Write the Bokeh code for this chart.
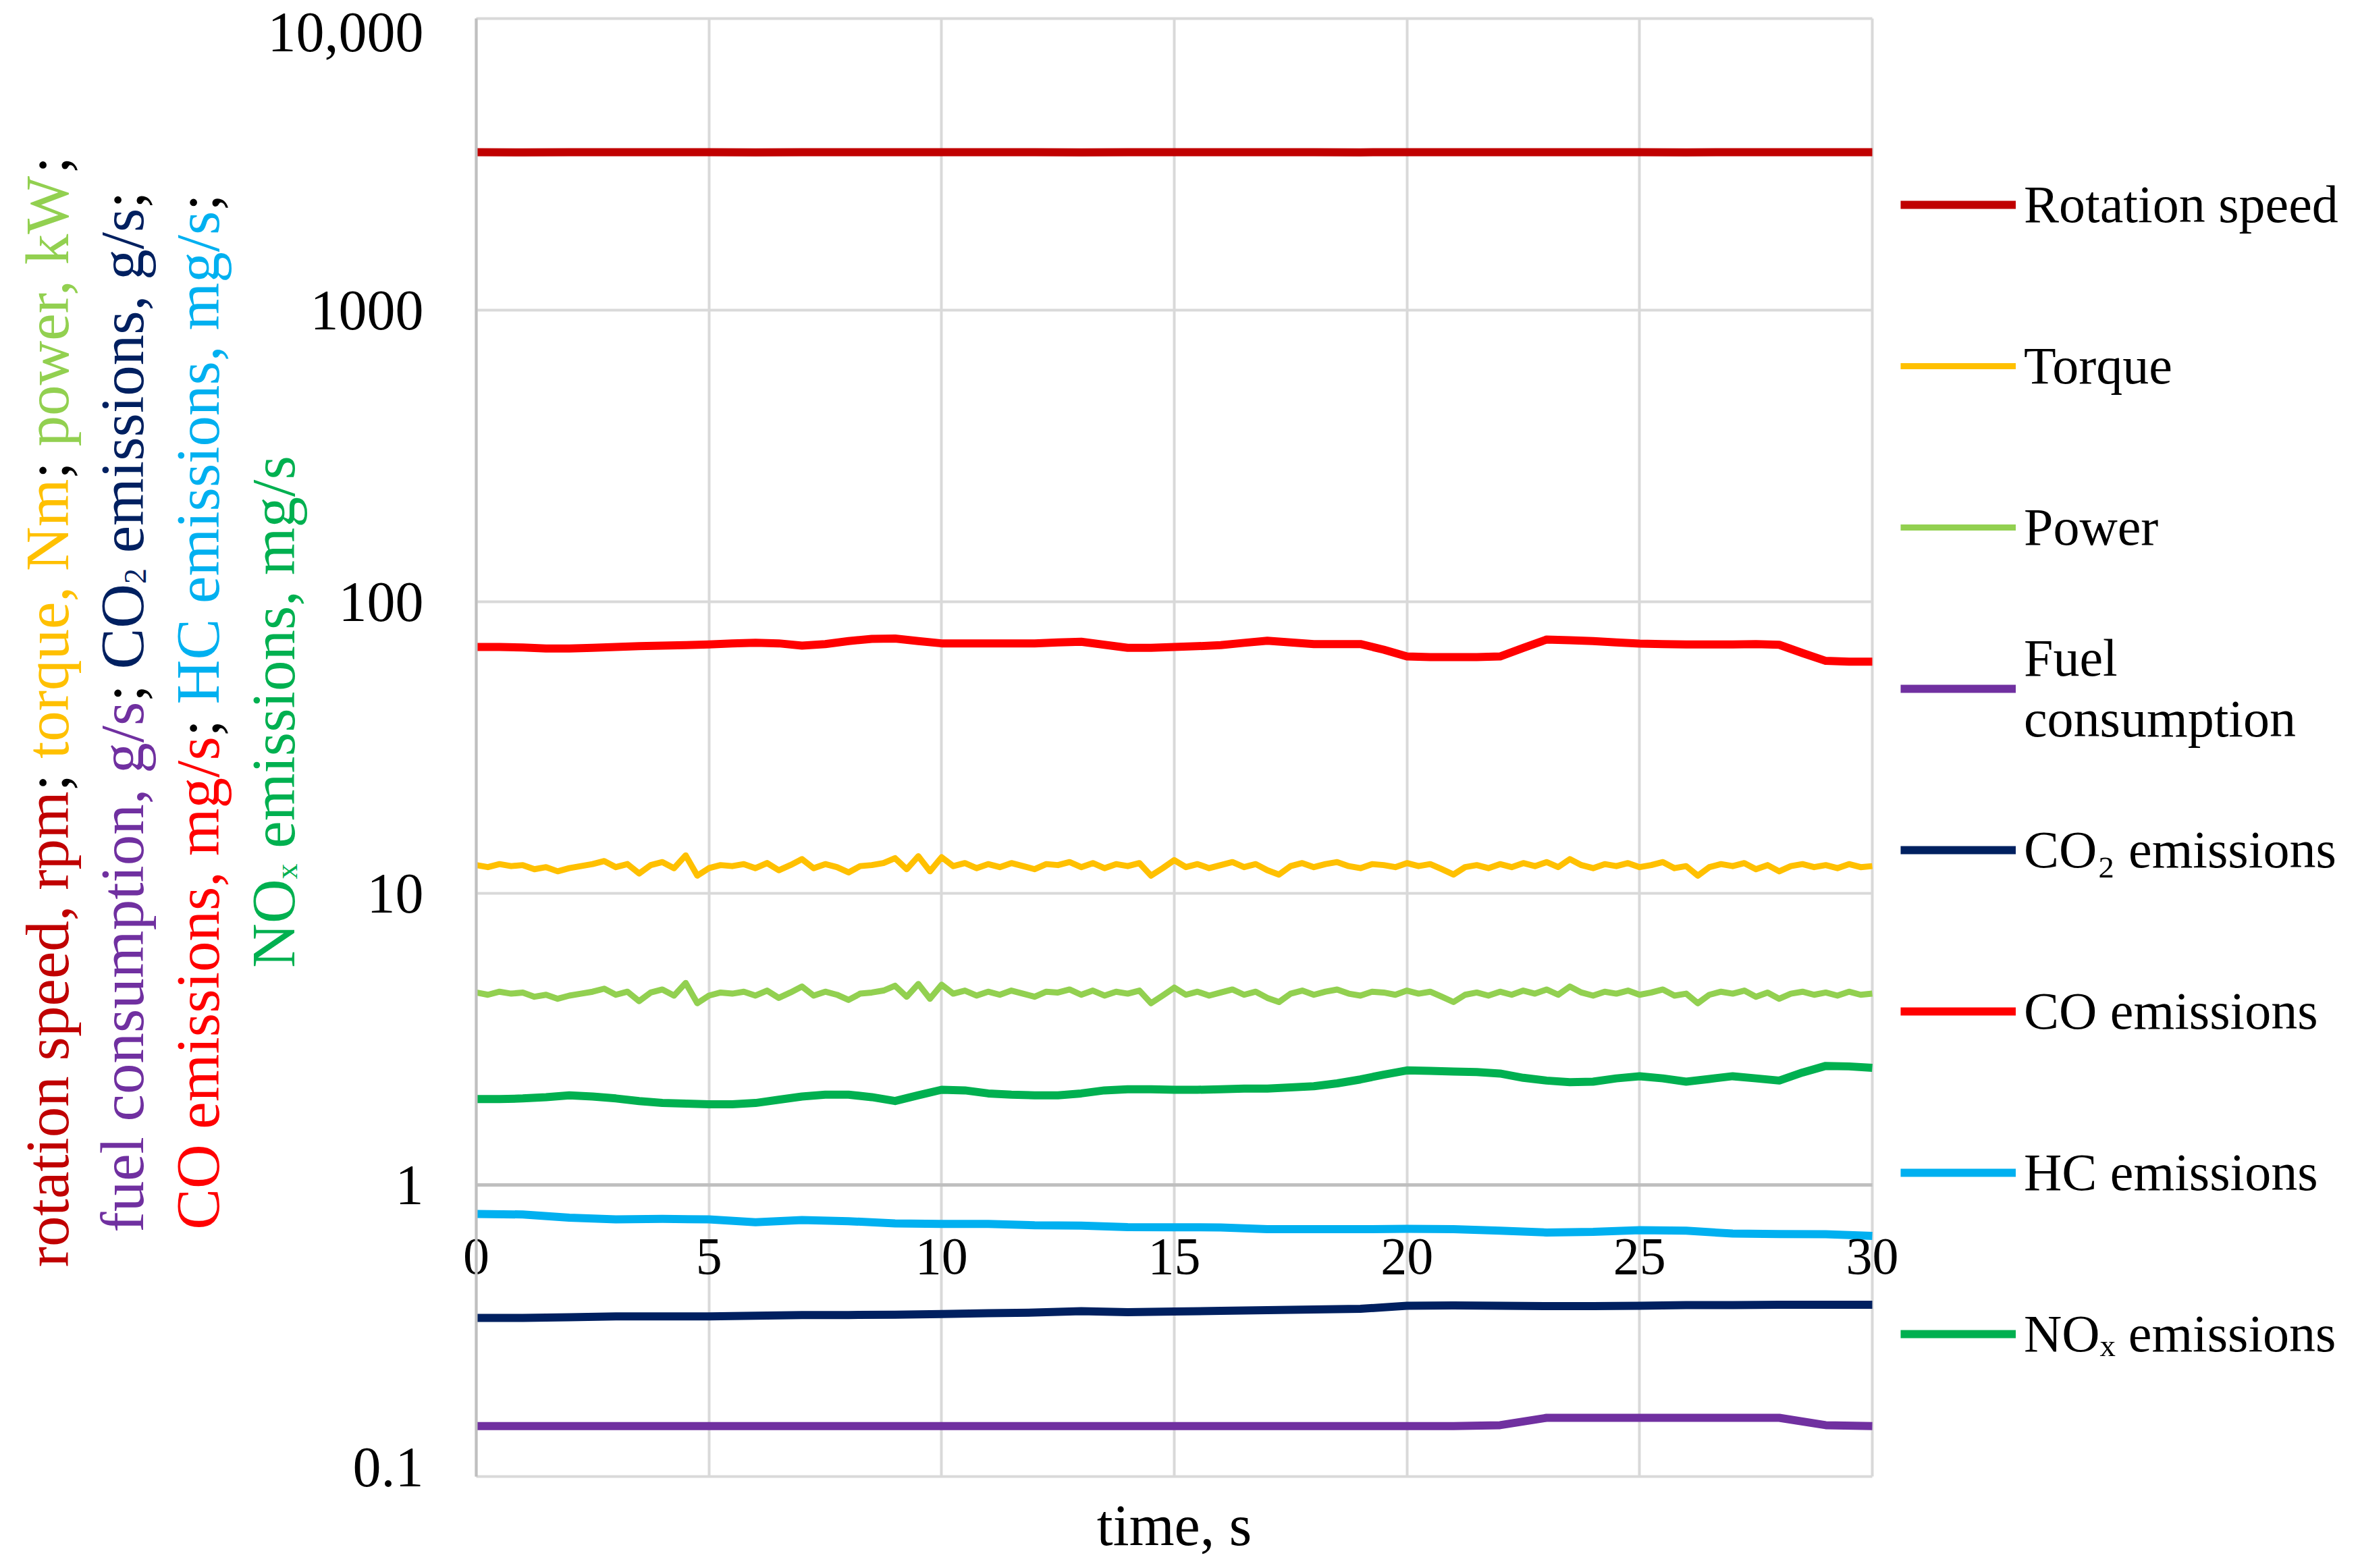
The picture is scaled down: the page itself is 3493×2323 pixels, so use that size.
import math
from bokeh.plotting import figure
from bokeh.models import Range1d, FixedTicker, Label, Legend, LegendItem, LogAxis
from bokeh.embed import file_html
from bokeh.resources import INLINE

# ---------------- data ----------------
time_s = [0, 1, 2, 3, 4, 5, 6, 7, 8, 9, 10, 11, 12, 13, 14, 15,
          16, 17, 18, 19, 20, 21, 22, 23, 24, 25, 26, 27, 28, 29, 30]
time_half = [i * 0.5 for i in range(61)]
time_fast = [i * 0.25 for i in range(121)]

rotation_speed = [3480, 3478, 3481, 3479, 3482, 3480, 3477, 3481, 3480, 3483, 3480,
                  3479, 3481, 3478, 3480, 3482, 3479, 3480, 3481, 3478, 3480,
                  3482, 3480, 3479, 3481, 3480, 3478, 3482, 3481, 3480, 3483]

torque = [12.5, 12.3, 12.6, 12.4, 12.5, 12.1, 12.3, 11.9, 12.2, 12.4,
          12.6, 12.9, 12.3, 12.6, 11.7, 12.5, 12.8, 12.2, 13.5, 11.5,
          12.2, 12.5, 12.4, 12.6, 12.2, 12.7, 12.0, 12.5, 13.1, 12.2,
          12.6, 12.3, 11.8, 12.4, 12.5, 12.7, 13.2, 12.1, 13.4, 11.9,
          13.3, 12.4, 12.7, 12.2, 12.6, 12.3, 12.7, 12.4, 12.1, 12.6,
          12.5, 12.8, 12.3, 12.7, 12.2, 12.6, 12.4, 12.7, 11.5, 12.2,
          13.0, 12.3, 12.6, 12.2, 12.5, 12.8, 12.3, 12.6, 12.0, 11.6,
          12.4, 12.7, 12.3, 12.6, 12.8, 12.4, 12.2, 12.6, 12.5, 12.3,
          12.7, 12.4, 12.6, 12.1, 11.6, 12.3, 12.5, 12.2, 12.6, 12.3,
          12.7, 12.4, 12.8, 12.3, 13.1, 12.5, 12.2, 12.6, 12.4, 12.7,
          12.3, 12.5, 12.8, 12.2, 12.4, 11.5, 12.3, 12.6, 12.4, 12.7,
          12.1, 12.5, 11.9, 12.4, 12.6, 12.3, 12.5, 12.2, 12.6, 12.3,
          12.4]

power = [4.57, 4.49, 4.60, 4.53, 4.57, 4.42, 4.49, 4.35, 4.46, 4.53,
         4.60, 4.71, 4.49, 4.60, 4.27, 4.57, 4.68, 4.46, 4.93, 4.20,
         4.46, 4.57, 4.53, 4.60, 4.46, 4.64, 4.38, 4.57, 4.79, 4.46,
         4.60, 4.49, 4.31, 4.53, 4.57, 4.64, 4.82, 4.42, 4.89, 4.35,
         4.86, 4.53, 4.64, 4.46, 4.60, 4.49, 4.64, 4.53, 4.42, 4.60,
         4.57, 4.68, 4.49, 4.64, 4.46, 4.60, 4.53, 4.64, 4.20, 4.46,
         4.75, 4.49, 4.60, 4.46, 4.57, 4.68, 4.49, 4.60, 4.38, 4.24,
         4.53, 4.64, 4.49, 4.60, 4.68, 4.53, 4.46, 4.60, 4.57, 4.49,
         4.64, 4.53, 4.60, 4.42, 4.24, 4.49, 4.57, 4.46, 4.60, 4.49,
         4.64, 4.53, 4.68, 4.49, 4.79, 4.57, 4.46, 4.60, 4.53, 4.64,
         4.49, 4.57, 4.68, 4.46, 4.53, 4.20, 4.49, 4.60, 4.53, 4.64,
         4.42, 4.57, 4.35, 4.53, 4.60, 4.49, 4.57, 4.46, 4.60, 4.49,
         4.53]

fuel_consumption = [0.149, 0.149, 0.149, 0.149, 0.149, 0.149, 0.149, 0.149, 0.149, 0.149,
                    0.149, 0.149, 0.149, 0.149, 0.149, 0.149, 0.149, 0.149, 0.149, 0.149,
                    0.149, 0.149, 0.150, 0.159, 0.159, 0.159, 0.159, 0.159, 0.159, 0.150,
                    0.149]

co2_emissions = [0.350, 0.350, 0.352, 0.354, 0.354, 0.354, 0.356, 0.358, 0.358, 0.359,
                 0.361, 0.363, 0.365, 0.369, 0.366, 0.368, 0.370, 0.372, 0.374, 0.376,
                 0.385, 0.386, 0.385, 0.384, 0.384, 0.385, 0.387, 0.387, 0.388, 0.388,
                 0.388]

co_emissions = [70.0, 70.0, 69.7, 69.1, 69.1, 69.5, 70.0, 70.4, 70.7, 71.0,
                71.4, 72.0, 72.3, 72.0, 70.7, 71.6, 73.3, 74.6, 74.8, 73.3,
                72.0, 72.0, 72.0, 72.0, 72.0, 72.5, 72.9, 71.2, 69.5, 69.5,
                70.0, 70.4, 71.0, 72.3, 73.5, 72.5, 71.6, 71.6, 71.6, 68.5,
                64.9, 64.6, 64.6, 64.6, 64.9, 69.5, 74.2, 73.8, 73.3, 72.5,
                71.9, 71.6, 71.4, 71.4, 71.4, 71.6, 71.2, 66.7, 62.7, 62.3,
                62.3]

hc_emissions = [0.795, 0.792, 0.772, 0.762, 0.765, 0.762, 0.745, 0.758, 0.751, 0.738,
                0.735, 0.735, 0.727, 0.725, 0.717, 0.716, 0.715, 0.705, 0.705, 0.705,
                0.707, 0.705, 0.697, 0.687, 0.690, 0.700, 0.697, 0.681, 0.679, 0.678,
                0.669]

nox_emissions = [1.97, 1.97, 1.98, 2.00, 2.03, 2.01, 1.98, 1.94, 1.91, 1.90,
                 1.89, 1.89, 1.91, 1.96, 2.01, 2.04, 2.04, 2.00, 1.94, 2.03,
                 2.12, 2.11, 2.06, 2.04, 2.03, 2.03, 2.06, 2.11, 2.13, 2.13,
                 2.12, 2.12, 2.13, 2.14, 2.14, 2.16, 2.18, 2.23, 2.30, 2.39,
                 2.47, 2.46, 2.45, 2.44, 2.41, 2.33, 2.28, 2.25, 2.26, 2.32,
                 2.36, 2.32, 2.26, 2.31, 2.36, 2.32, 2.28, 2.43, 2.56, 2.55,
                 2.52]

x_ticks = [0, 5, 10, 15, 20, 25, 30]
y_ticks = [0.1, 1, 10, 100, 1000, 10000]
y_tick_labels = ["0.1", "1", "10", "100", "1000", "10,000"]

series_names = ["Rotation speed", "Torque", "Power", "Fuel\nconsumption",
                "CO\u2082 emissions", "CO emissions", "HC emissions", "NO\u2093 emissions"]

# ---------------- styling / geometry ----------------
FONT = "Liberation Serif"
C_RPM = "#C00000"
C_TQ = "#FFC000"
C_PW = "#92D050"
C_FUEL = "#7030A0"
C_CO2 = "#002060"
C_CO = "#FF0000"
C_HC = "#00B0F0"
C_NOX = "#00B050"
GRID = "#D9D9D9"
AXIS = "#BFBFBF"

W, H = 3477, 2307
X0, X1 = 705, 2773          # canvas px of t = 0 and t = 30
Y_TOP, Y_BOT = 27, 2187     # canvas px of 10,000 and 0.1
PX = (X1 - X0) / 30.0
DEC = (Y_BOT - Y_TOP) / 5.0


def dx(cx):
    return (cx - X0) / PX


def dy(cy):
    return 10 ** (4 - (cy - Y_TOP) / DEC)


p = figure(width=W, height=H, y_axis_type="log",
           x_range=Range1d(dx(0), dx(W)), y_range=Range1d(dy(H), dy(0)),
           output_backend="svg", toolbar_location=None,
           min_border=0, min_border_left=0, min_border_right=0,
           min_border_top=0, min_border_bottom=0)
p.background_fill_color = "white"
p.border_fill_color = "white"
p.outline_line_color = None


def style_y(ax):
    ax.major_tick_line_color = None
    ax.minor_tick_line_color = None
    ax.major_tick_out = 0
    ax.minor_tick_out = 0
    ax.major_label_standoff = 78
    ax.major_label_text_font = FONT
    ax.major_label_text_font_size = "84px"
    ax.major_label_text_color = "black"


# ---- y axis (inner decades), placed at t = 0 ----
inner_ticks = y_ticks[1:-1]
p.yaxis.ticker = FixedTicker(ticks=inner_ticks)
p.yaxis.fixed_location = 0
p.yaxis.bounds = (y_ticks[0], y_ticks[-1])
p.yaxis.major_label_overrides = dict(zip(inner_ticks, y_tick_labels[1:-1]))
p.yaxis.axis_line_color = AXIS
p.yaxis.axis_line_width = 4
style_y(p.yaxis[0])

# end labels sit slightly inside the plot area, as in the original
top_pos, bot_pos = dy(47), dy(2173)
end_axis = LogAxis(ticker=FixedTicker(ticks=[bot_pos, top_pos]), fixed_location=0,
                   major_label_overrides={bot_pos: y_tick_labels[0], top_pos: y_tick_labels[-1]},
                   axis_line_color=None)
style_y(end_axis)
p.add_layout(end_axis, "left")

# ---- x axis crossing at y = 1 ----
p.xaxis.ticker = FixedTicker(ticks=x_ticks)
p.xaxis.fixed_location = 1
p.xaxis.bounds = (0, 30)
p.xaxis.major_tick_line_color = None
p.xaxis.minor_tick_line_color = None
p.xaxis.major_tick_out = 0
p.xaxis.axis_line_color = AXIS
p.xaxis.axis_line_width = 5
p.xaxis.major_label_standoff = 80
p.xaxis.major_label_text_font = FONT
p.xaxis.major_label_text_font_size = "78px"
p.xaxis.major_label_text_color = "black"

# ---- grid ----
p.xgrid.ticker = FixedTicker(ticks=x_ticks)
p.ygrid.ticker = FixedTicker(ticks=y_ticks)
p.ygrid.minor_grid_line_color = None
if hasattr(p.xgrid[0], "cross_bounds"):
    p.xgrid.cross_bounds = (y_ticks[0], y_ticks[-1])
    p.ygrid.cross_bounds = (x_ticks[0], x_ticks[-1])
    p.xgrid.bounds = (x_ticks[0], x_ticks[-1])
    p.ygrid.bounds = (y_ticks[0], y_ticks[-1])
    p.grid.grid_line_color = GRID
    p.grid.grid_line_width = 4
else:
    p.grid.visible = False
    p.segment(x0=x_ticks, y0=[y_ticks[0]] * len(x_ticks), x1=x_ticks,
              y1=[y_ticks[-1]] * len(x_ticks), line_color=GRID, line_width=4)
    p.segment(x0=[x_ticks[0]] * len(y_ticks), y0=y_ticks, x1=[x_ticks[-1]] * len(y_ticks),
              y1=y_ticks, line_color=GRID, line_width=4)

# ---- series ----
LW = 12
r_rpm = p.line(time_s, rotation_speed, line_color=C_RPM, line_width=LW, line_join="round")
r_tq = p.line(time_fast, torque, line_color=C_TQ, line_width=9, line_join="round")
r_pw = p.line(time_fast, power, line_color=C_PW, line_width=9, line_join="round")
r_fuel = p.line(time_s, fuel_consumption, line_color=C_FUEL, line_width=LW, line_join="round")
r_co2 = p.line(time_s, co2_emissions, line_color=C_CO2, line_width=LW, line_join="round")
r_co = p.line(time_half, co_emissions, line_color=C_CO, line_width=LW, line_join="round")
r_hc = p.line(time_s, hc_emissions, line_color=C_HC, line_width=LW, line_join="round")
r_nox = p.line(time_half, nox_emissions, line_color=C_NOX, line_width=LW, line_join="round")

renderers = [r_rpm, r_tq, r_pw, r_fuel, r_co2, r_co, r_hc, r_nox]
legend = Legend(items=[LegendItem(label=n, renderers=[r]) for n, r in zip(series_names, renderers)],
                location=(2815, 236), orientation="vertical",
                glyph_width=171, glyph_height=190, label_height=190,
                label_standoff=12, spacing=49, padding=0, margin=0,
                border_line_color=None, background_fill_alpha=0,
                label_text_font=FONT, label_text_font_size="78px",
                label_text_color="black")
p.add_layout(legend)

# ---- x axis title ----
p.add_layout(Label(x=15, y=dy(2259), text="time, s", text_align="center",
                   text_baseline="alphabetic", text_font=FONT,
                   text_font_size="86px", text_color="black"))

# ---- multi-coloured rotated y axis title ----
TW = {' ': 250, ',': 250, ';': 278, '/': 278, 'a': 444, 'b': 500, 'c': 444, 'd': 500,
      'e': 444, 'f': 333, 'g': 500, 'h': 500, 'i': 278, 'k': 500, 'l': 278, 'm': 778,
      'n': 500, 'o': 500, 'p': 500, 'q': 500, 'r': 333, 's': 389, 't': 278, 'u': 500,
      'w': 722, 'x': 500, 'C': 667, 'H': 722, 'N': 722, 'O': 722, 'W': 944, '2': 500}
F = 91
FS = 46
SUB_SHIFT = 19


def text_width(s, size):
    return sum(TW.get(c, 500) for c in s) / 1000.0 * size


title_lines = [
    (70, [("rotation speed, rpm", C_RPM, False), (";", "black", False),
          (" torque, Nm", C_TQ, False), (";", "black", False),
          (" power, kW", C_PW, False), (";", "black", False)]),
    (181, [("fuel consumption, g/s", C_FUEL, False), (";", "black", False),
           (" CO", C_CO2, False), ("2", C_CO2, True),
           (" emissions, g/s", C_CO2, False), (";", "black", False)]),
    (293, [("CO emissions, mg/s", C_CO, False), (";", "black", False),
           (" HC emissions, mg/s", C_HC, False), (";", "black", False)]),
    (405, [("NO", C_NOX, False), ("x", C_NOX, True),
           (" emissions, mg/s", C_NOX, False)]),
]
CENTER_CY = 1054
for xb, segs in title_lines:
    total = sum(text_width(t, FS if sub else F) for t, _, sub in segs)
    cy = CENTER_CY + total / 2          # canvas y of the start (bottom) of the line
    for t, col, sub in segs:
        size = FS if sub else F
        lead = len(t) - len(t.lstrip(" "))
        cy -= lead * 0.25 * size
        txt = t.strip(" ")
        p.add_layout(Label(x=dx(xb + (SUB_SHIFT if sub else 0)), y=dy(cy),
                           text=txt, angle=math.pi / 2, angle_units="rad",
                           text_align="left", text_baseline="alphabetic",
                           text_font=FONT, text_font_size=f"{size}px",
                           text_color=col))
        cy -= text_width(txt, size)

open("out.html", "w").write(file_html(p, INLINE))
